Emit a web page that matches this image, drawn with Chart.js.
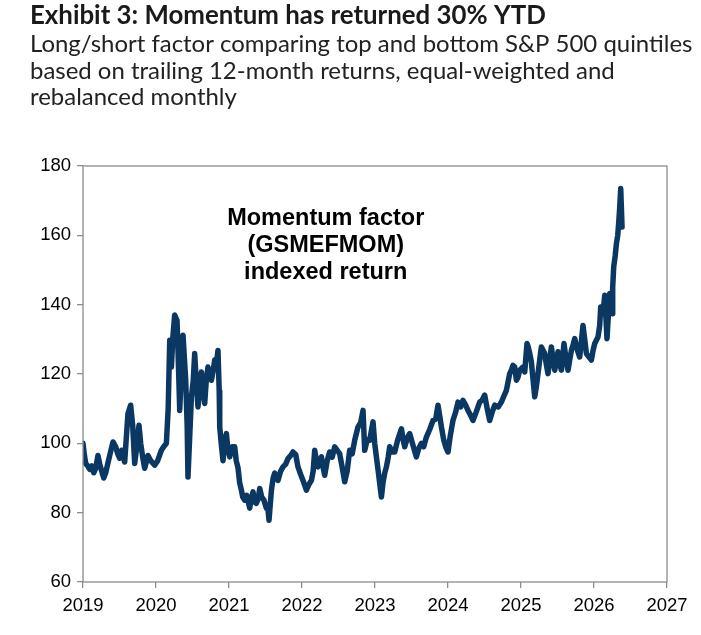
<!DOCTYPE html>
<html><head><meta charset="utf-8">
<script src="https://cdn.jsdelivr.net/npm/chart.js@4.4.1/dist/chart.umd.min.js"></script>
<style>html,body{margin:0;padding:0;background:#fff;}#wrap{position:relative;width:701px;height:635px;}</style>
</head><body><div id="wrap"><canvas id="c" width="701" height="635"></canvas></div>
<script>
const titleText = "Exhibit 3: Momentum has returned 30% YTD";
const subtitleLines = [
  "Long/short factor comparing top and bottom S&P 500 quintiles",
  "based on trailing 12-month returns, equal-weighted and",
  "rebalanced monthly"
];
const annotationLines = ["Momentum factor", "(GSMEFMOM)", "indexed return"];
const xTickYears = [2019, 2020, 2021, 2022, 2023, 2024, 2025, 2026, 2027];
const yTickValues = [60, 80, 100, 120, 140, 160, 180];

// dates in decimal years
const dates = [
2019.000,2019.016,2019.037,2019.064,2019.092,2019.119,2019.147,2019.174,2019.205,2019.229,
2019.256,2019.284,2019.311,2019.338,2019.366,2019.411,2019.448,2019.475,2019.503,2019.530,
2019.571,2019.616,2019.653,2019.681,2019.708,2019.736,2019.767,2019.790,2019.818,2019.845,
2019.890,2019.927,2019.982,2020.023,2020.074,2020.105,2020.142,2020.167,2020.188,2020.211,
2020.229,2020.256,2020.288,2020.304,2020.325,2020.345,2020.370,2020.407,2020.427,2020.438,
2020.462,2020.485,2020.510,2020.530,2020.551,2020.575,2020.599,2020.622,2020.647,2020.667,
2020.688,2020.712,2020.736,2020.759,2020.784,2020.804,2020.829,2020.849,2020.866,2020.873,
2020.893,2020.918,2020.941,2020.964,2020.986,2021.010,2021.044,2021.078,2021.099,2021.123,
2021.147,2021.170,2021.188,2021.215,2021.242,2021.284,2021.304,2021.329,2021.352,2021.375,
2021.400,2021.421,2021.448,2021.479,2021.512,2021.530,2021.548,2021.564,2021.581,2021.605,
2021.626,2021.671,2021.708,2021.740,2021.777,2021.808,2021.845,2021.877,2021.914,2021.945,
2021.982,2022.014,2022.060,2022.092,2022.129,2022.153,2022.174,2022.197,2022.219,2022.242,
2022.266,2022.290,2022.311,2022.345,2022.379,2022.414,2022.448,2022.482,2022.516,2022.551,
2022.585,2022.619,2022.653,2022.688,2022.722,2022.767,2022.804,2022.836,2022.859,2022.893,
2022.927,2022.973,2022.996,2023.019,2023.044,2023.088,2023.112,2023.133,2023.156,2023.181,
2023.201,2023.236,2023.270,2023.311,2023.362,2023.386,2023.407,2023.441,2023.475,2023.521,
2023.567,2023.599,2023.636,2023.667,2023.704,2023.749,2023.795,2023.832,2023.863,2023.886,
2023.910,2023.941,2023.968,2024.000,2024.030,2024.068,2024.105,2024.137,2024.174,2024.205,
2024.242,2024.274,2024.311,2024.342,2024.386,2024.434,2024.468,2024.503,2024.537,2024.571,
2024.605,2024.640,2024.688,2024.732,2024.763,2024.800,2024.825,2024.845,2024.866,2024.890,
2024.914,2024.937,2024.959,2024.982,2025.027,2025.051,2025.082,2025.096,2025.119,2025.142,
2025.167,2025.188,2025.208,2025.233,2025.256,2025.279,2025.325,2025.345,2025.370,2025.393,
2025.416,2025.441,2025.462,2025.485,2025.507,2025.530,2025.553,2025.571,2025.589,2025.619,
2025.644,2025.667,2025.690,2025.715,2025.736,2025.770,2025.804,2025.825,2025.849,2025.873,
2025.896,2025.927,2025.964,2025.989,2026.010,2026.055,2026.078,2026.092,2026.123,2026.147,
2026.164,2026.178,2026.197,2026.215,2026.247,2026.256,2026.270,2026.290,2026.307,2026.325,
2026.338,2026.352,2026.366,2026.375,2026.384
];
const values = [
100,97,94.2,93.5,92.5,93.5,91.5,92.8,96.5,94,
92,90,91.5,94,96.5,100.4,99,97,95.7,98,
94.6,108.6,111,105,94.2,99,105.2,100,96,92.8,
96.5,95,93.7,95,98,99,100,110,129.7,122,
130,137,135.5,125,109.5,120,131.2,118.2,105,90.3,
102,113.4,118,125.9,118,110.5,116,120.6,115,111.5,
118,122,120,118.2,121,124,123,126.8,115,104.7,
100,95,101,102.8,98,96.1,99,99,95,93,
88.5,86.5,84.5,83.6,85,81.3,84,86,83,82.7,
84,87,84.5,83.6,81.3,82,77.8,82,86.5,90,
91.4,89.3,92,93.2,94,95.6,96.5,97.5,96.8,93.2,
91,89.3,86.5,88,89.3,92,98,95,93.2,95,
96.1,93,90.8,95,97.5,96,99,98,97,93,
88.9,92,98,97,100.9,104.7,106,109.5,98,101,
100.9,106.2,100,96.1,92,84.5,89,91.4,93.2,96,
99,97.5,97.5,101,104.2,101,99,101.5,102.8,99.4,
96.1,98.5,100,99,101.8,104,106.6,107,111,108,
104.7,101,99,97.5,102,106.6,109,111.9,110.5,112.4,
111,109.5,108,106.6,109,111.9,112.5,113.9,110,106.6,
109,111,110.5,111.9,113.5,115.3,118,120.1,121,122.5,
122,118.2,119.1,121.1,122,120.6,128.8,128,126,123.5,
118,113.4,116,120.1,124,127.8,125.9,123,120.1,124,
127.8,124,121.1,124,126.4,123,121.1,125,128.8,124,
121.1,124,126.8,128.5,130.2,127,124.9,129,134,130,
125.9,125,124,127,128.8,130.7,134,139.3,137.4,142.7,
136,130.2,137,143.2,137.4,145,150.9,154,157.6,160,
163.4,168,173.5,168,162.4
];

const FONT_AXIS = "'Liberation Sans', Arial, sans-serif";
const FONT_TITLE = "Lato, 'Noto Sans', sans-serif";

function fitSize(ctx, weight, text, target) {
  ctx.font = weight + " 20px " + FONT_TITLE;
  return 20 * target / ctx.measureText(text).width;
}

const boxPlugin = {
  id: 'box',
  afterDraw(chart) {
    const ctx = chart.ctx, a = chart.chartArea;
    ctx.save();
    ctx.strokeStyle = '#8c8c8c';
    ctx.lineWidth = 1.3;
    ctx.strokeRect(a.left, a.top, a.right - a.left, a.bottom - a.top);
    // annotation
    ctx.fillStyle = '#000';
    ctx.font = "bold 23.5px " + FONT_AXIS;
    ctx.textAlign = 'center';
    ctx.textBaseline = 'middle';
    const cx = a.left + 0.4156 * (a.right - a.left);
    annotationLines.forEach((t, i) => ctx.fillText(t, cx, a.top + 53 + i * 27));
    // titles
    ctx.textAlign = 'left';
    ctx.textBaseline = 'alphabetic';
    ctx.fillStyle = '#1a1a1a';
    const ts = fitSize(ctx, 'bold', titleText, 516);
    ctx.font = "bold " + ts + "px " + FONT_TITLE;
    ctx.fillText(titleText, 30, 24);
    ctx.fillStyle = '#222';
    const ss = fitSize(ctx, 'normal', subtitleLines[0], 663);
    ctx.font = ss + "px " + FONT_TITLE;
    subtitleLines.forEach((t, i) => ctx.fillText(t, 30, 52 + i * 26.5));
    ctx.restore();
  }
};

new Chart(document.getElementById('c'), {
  type: 'line',
  data: {
    datasets: [{
      data: dates.map((d, i) => ({x: d, y: values[i]})),
      borderColor: '#0b3763',
      borderWidth: 5.5,
      pointRadius: 0,
      tension: 0,
      borderJoinStyle: 'round',
      borderCapStyle: 'round',
      fill: false
    }]
  },
  options: {
    responsive: false,
    animation: false,
    devicePixelRatio: 1,
    layout: { padding: { top: 166, right: 34, left: 0, bottom: 0 } },
    plugins: { legend: { display: false }, tooltip: { enabled: false } },
    scales: {
      x: {
        type: 'linear', min: 2019, max: 2027,
        afterBuildTicks: s => { s.ticks = xTickYears.map(v => ({value: v})); },
        afterFit: s => { s.height = 53; },
        border: { display: false },
        grid: { drawOnChartArea: false, drawTicks: true, tickLength: 6, color: '#8c8c8c', lineWidth: 1.3 },
        ticks: { color: '#000', padding: 7, maxRotation: 0, font: { family: FONT_AXIS, size: 18.5 }, callback: v => String(v) }
      },
      y: {
        min: 60, max: 180,
        afterBuildTicks: s => { s.ticks = yTickValues.map(v => ({value: v})); },
        afterFit: s => { s.width = 83; },
        border: { display: false },
        grid: { drawOnChartArea: false, drawTicks: true, tickLength: 6, color: '#8c8c8c', lineWidth: 1.3 },
        ticks: { color: '#000', padding: 6, font: { family: FONT_AXIS, size: 18.5 }, callback: v => String(v) }
      }
    }
  },
  plugins: [boxPlugin]
});
</script>
</body></html>
